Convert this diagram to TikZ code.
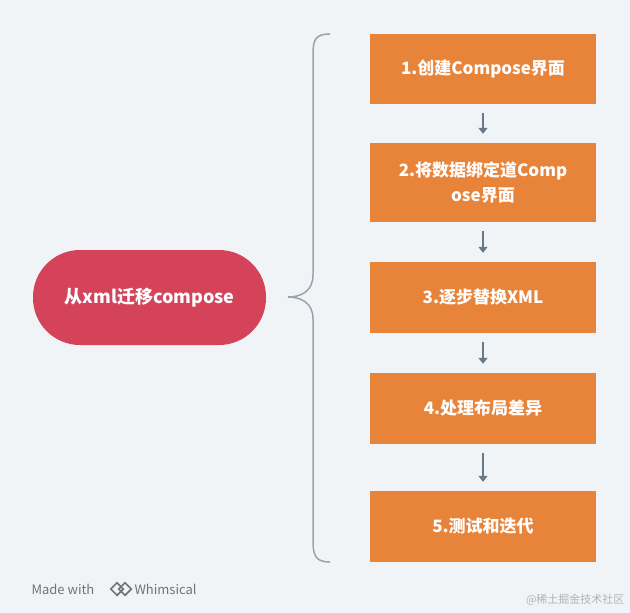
\documentclass[tikz,border=0pt]{standalone}
\usepackage{fontspec}
\setmainfont{Noto Sans CJK SC}
\newfontfamily\cjk{Noto Sans CJK SC}
\begin{document}
\begin{tikzpicture}[x=1pt,y=-1pt,
  stepbox/.style={fill=boxor,text=white,minimum width=226pt,text width=210pt,align=center,font=\cjk\bfseries\fontsize{17}{25}\selectfont,inner sep=0pt},
  arr/.style={draw=arrc,line width=2.6pt,-{Triangle[length=6pt,width=9pt]}}]
\usetikzlibrary{arrows.meta}
\definecolor{bg}{HTML}{F1F4F7}
\definecolor{boxor}{HTML}{E8843A}
\definecolor{pill}{HTML}{D4435A}
\definecolor{brc}{HTML}{9AA3AC}
\definecolor{arrc}{HTML}{6B7885}
\fill[bg] (0,0) rectangle (630,613);
\useasboundingbox (0,0) rectangle (630,613);
\node[stepbox,minimum height=70pt] (s1) at (483,69) {1.创建Compose界面};
\node[stepbox,minimum height=79pt] (s2) at (483,182.5) {2.将数据绑定道Comp\\ose界面};
\node[stepbox,minimum height=71pt] (s3) at (483,297.5) {3.逐步替换XML};
\node[stepbox,minimum height=71pt] (s4) at (483,408.5) {4.处理布局差异};
\node[stepbox,minimum height=71pt] (s5) at (483,526.5) {5.测试和迭代};
\foreach \a/\b in {s1/s2,s2/s3,s3/s4,s4/s5}{
  \draw[arr] ([yshift=-9pt]\a.south) -- ([yshift=9pt]\b.north);}
\node[fill=pill,rounded corners=47pt,minimum width=233pt,minimum height=95pt,text=white,font=\cjk\bfseries\fontsize{18}{20}\selectfont] (root) at (149.5,297.5) {从xml迁移compose};
\coordinate (tip) at (288,297);
\draw[brc,line width=1.5pt] (330,34) .. controls (315,34) and (313,40) .. (313,55)
  -- (313,275) .. controls (313,292) and (300,297) .. (tip)
  .. controls (300,297) and (313,302) .. (313,319) -- (313,540)
  .. controls (313,555) and (315,562) .. (330,562);
\node[anchor=west,text=gray!90!black,font=\fontsize{13}{15}\selectfont] (mw) at (28,589) {Made with};
\node[draw=gray!90!black,line width=1.6pt,rotate=45,minimum size=9pt,inner sep=0pt] (l1) at (117,589) {};
\node[draw=gray!90!black,line width=1.6pt,rotate=45,minimum size=9pt,inner sep=0pt] (l2) at (125,589) {};
\node[anchor=west,text=gray!90!black,font=\fontsize{13}{15}\selectfont] (wh) at (131,589) {Whimsical};
\node[anchor=east,text=gray!60,font=\cjk\fontsize{11}{13}\selectfont] (jj) at (628,600) {@稀土掘金技术社区};
\end{tikzpicture}
\end{document}
